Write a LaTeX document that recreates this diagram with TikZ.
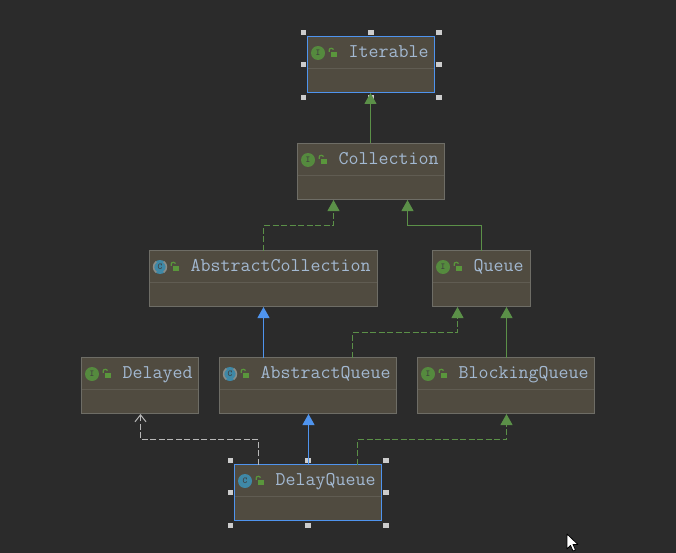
\documentclass[tikz,border=0pt]{standalone}
\usepackage{fontspec}
\usetikzlibrary{positioning,arrows.meta}
\definecolor{canvas}{HTML}{2B2B2B}
\definecolor{boxfill}{HTML}{504B40}
\definecolor{boxline}{HTML}{6E6D66}
\definecolor{boxdiv}{HTML}{605C52}
\definecolor{picked}{HTML}{4F94EE}
\definecolor{implgreen}{HTML}{5B9048}
\definecolor{iface}{HTML}{558A3E}
\definecolor{lockgreen}{HTML}{5A963C}
\definecolor{klass}{HTML}{3F88A6}
\definecolor{titletext}{HTML}{A3B9D2}
\definecolor{usegrey}{HTML}{B8B8B8}
\definecolor{rimgrey}{HTML}{8C8C86}
\tikzset{%
  every classbox/.style={
    rectangle,
    draw=boxline,
    fill=boxfill,
    line width=1pt,
    outer sep=0pt,
    minimum height=56pt
  },
  selected/.style={draw=picked},
  handle/.style={
    rectangle,
    fill=black!20,
    inner sep=0pt,
    minimum size=5.5pt
  },
  kindicon/.style={
    circle,
    inner sep=0pt,
    minimum size=14pt,
    text=black!75,
    font=\ttfamily\bfseries\fontsize{9}{9}\selectfont
  },
  lockbody/.style={
    rectangle,
    fill=lockgreen,
    inner sep=0pt,
    minimum width=6pt,
    minimum height=5pt
  },
  classtitle/.style={
    anchor=base west,
    inner sep=0pt,
    text=titletext,
    font=\ttfamily\fontsize{19.4}{19.4}\selectfont
  },
  extends/.style={draw=picked,line width=1pt,-{Triangle[width=12pt,length=11pt]}},
  inherits/.style={draw=implgreen,line width=1pt,-{Triangle[width=12pt,length=11pt]}},
  implements/.style={inherits,dash pattern=on 6pt off 2.5pt},
  uses/.style={draw=usegrey,line width=1pt,dash pattern=on 6pt off 2.5pt,
    -{Straight Barb[width=11pt,length=7pt]}},
}

\begin{document}
\begin{tikzpicture}[x=1pt,y=1pt,node distance=51pt]
      \fill[canvas] (0,0) rectangle (676,-553);
      \useasboundingbox (0,0) rectangle (676,-553);

      % class boxes, row by row
      \node[every classbox,selected,minimum width=127pt,anchor=north west] (iterable) at (307.5,-36.5) {};
      \node[every classbox,minimum width=147pt,below=of iterable] (collection) {};

      \node[every classbox,minimum width=228pt,below left=51pt and -80pt of collection] (abscoll) {};
      \node[every classbox,minimum width=98pt,below right=51pt and -12pt of collection] (queue) {};

      \node[every classbox,minimum width=177pt,below right=51pt and -158pt of abscoll] (absqueue) {};
      \node[every classbox,minimum width=117pt,left=21pt of absqueue] (delayed) {};
      \node[every classbox,minimum width=177pt,right=21pt of absqueue] (blocking) {};

      \node[every classbox,selected,minimum width=147pt,below=of absqueue] (delayqueue) {};

      % divider, kind icon, lock and title of each box
      \foreach \b/\t/\k/\c in {iterable/Iterable/I/iface,collection/Collection/I/iface,
          abscoll/AbstractCollection/C/klass,queue/Queue/I/iface,delayed/Delayed/I/iface,
          absqueue/AbstractQueue/C/klass,blocking/BlockingQueue/I/iface,delayqueue/DelayQueue/C/klass} {
        \draw[boxdiv,line width=1pt] ([xshift=.5pt,yshift=-32pt]\b.north west) -- ([xshift=-.5pt,yshift=-32pt]\b.north east);
        \node[kindicon,fill=\c] (\b-icon) at ([xshift=10.5pt,yshift=-16.5pt]\b.north west) {\k};
        \node[lockbody] (\b-lock) at ([xshift=26.5pt,yshift=-18pt]\b.north west) {};
        \draw[lockgreen,line width=1.2pt] ([xshift=-1.5pt]\b-lock.north west) -- ++(0,2) arc (180:0:2 and 1.5);
        \node[classtitle] (\b-title) at ([xshift=41pt,yshift=-21pt]\b.north west) {\t};
      }

      % the abstract classes have a grey rim round the icon
      \foreach \b in {abscoll,absqueue} {
        \draw[rimgrey,line width=1.5pt] (\b-icon.center) ++(125:6.5pt) arc (125:235:6.5pt);
        \draw[rimgrey,line width=1.5pt] (\b-icon.center) ++(-55:6.5pt) arc (-55:55:6.5pt);
      }

      % resize handles of the two selected boxes
      \foreach \b in {iterable,delayqueue} {
        \foreach \a/\dx/\dy in {north west/-4.2/4.2,north/0/4.2,north east/4.5/4.2,west/-4.2/0,
            east/4.5/0,south west/-4.2/-4.8,south/0/-4.8,south east/4.5/-4.8} {
          \node[handle] (\b-\a) at ([xshift=\dx pt,yshift=\dy pt]\b.\a) {};
        }
      }

      \draw[inherits] ([xshift=-.5pt]collection.north) -- ([xshift=-.5pt,yshift=-.5pt]iterable.south);
      \draw[implements] (abscoll.north) -- ++(0,25) -| ([xshift=-37.5pt,yshift=-.5pt]collection.south);
      \draw[inherits] (queue.north) -- ++(0,25) -| ([xshift=36.5pt,yshift=-.5pt]collection.south);
      \draw[extends] (absqueue.north -| abscoll) -- ([yshift=-.5pt]abscoll.south);
      \draw[implements] ([xshift=44.5pt]absqueue.north) -- ++(0,25) -| ([xshift=-24pt,yshift=-.5pt]queue.south);
      \draw[inherits] ([xshift=.5pt]blocking.north) -- ([xshift=.5pt,yshift=-.5pt]queue.south -| blocking.north);
      \draw[uses] ([xshift=-49.5pt]delayqueue.north) -- ++(0,25) -| ([xshift=.5pt,yshift=-.5pt]delayed.south);
      \draw[extends] ([xshift=.5pt]delayqueue.north) -- ([xshift=.5pt,yshift=-.5pt]absqueue.south);
      \draw[implements] ([xshift=49.5pt]delayqueue.north) -- ++(0,25) -| ([xshift=.5pt,yshift=-.5pt]blocking.south);

      % mouse pointer in the corner
      \fill[white,draw=black,line width=.8pt,line join=round] (567,-534) -- (567,-549) -- (570.5,-545.5)
        -- (573,-551) -- (575.5,-550) -- (573,-544.5) -- (578,-544.5) -- cycle;
\end{tikzpicture}
\end{document}
